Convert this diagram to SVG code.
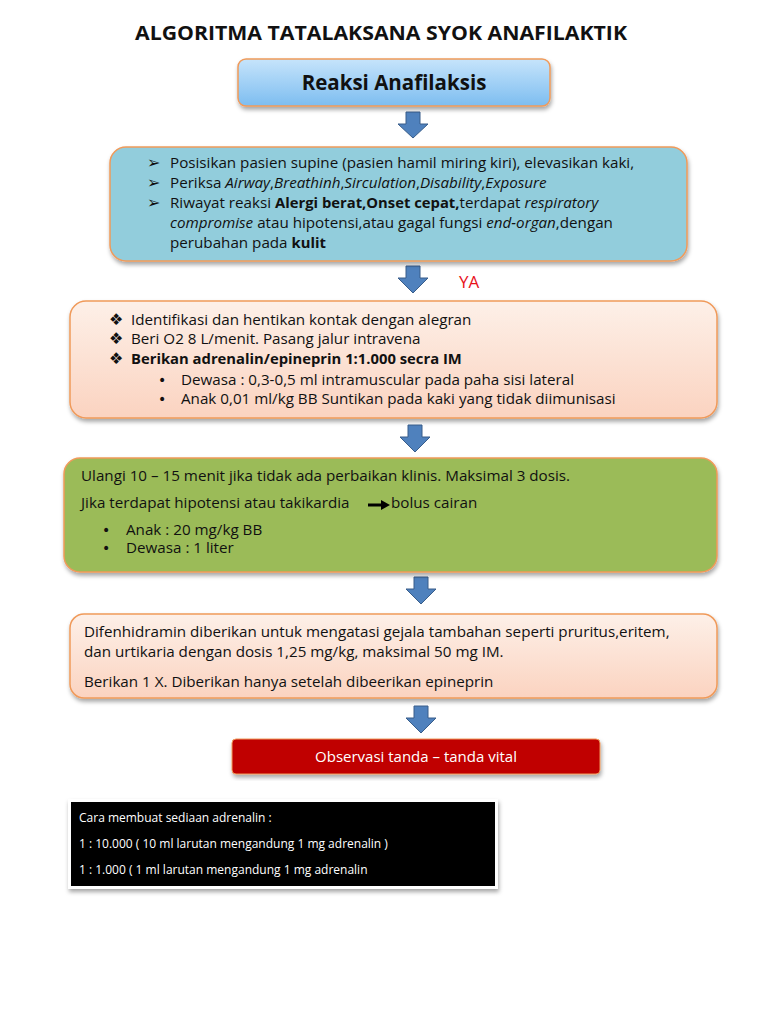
<svg xmlns="http://www.w3.org/2000/svg" width="768" height="1024" viewBox="0 0 768 1024">
<defs>
<linearGradient id="gBlue" x1="0" y1="0" x2="0" y2="1"><stop offset="0" stop-color="#c6e4fb"/><stop offset="1" stop-color="#7dbdf0"/></linearGradient>
<linearGradient id="gPeach" x1="0" y1="0" x2="0" y2="1"><stop offset="0" stop-color="#fdf0e8"/><stop offset="1" stop-color="#fbd3c0"/></linearGradient>
<filter id="sh" x="-5%" y="-10%" width="110%" height="130%"><feDropShadow dx="1" dy="3" stdDeviation="2" flood-color="#000" flood-opacity="0.35"/></filter>
<style>
.t{font-family:"Open Sans","Liberation Sans",sans-serif;fill:#111}
.b{font-size:15.2px}
.bd{font-weight:bold;font-size:14.8px}
.m{font-family:"DejaVu Sans",sans-serif;font-size:16px}
.d{font-family:"DejaVu Sans",sans-serif;font-size:14px}
.box{stroke:#f09a5a;stroke-width:1.5}
.arr{fill:#4f81bd;stroke:#385d8a;stroke-width:1}
</style>
</defs>
<rect width="768" height="1024" fill="#fff"/>
<text class="t" x="135" y="40" font-size="19" font-weight="bold" textLength="492" lengthAdjust="spacingAndGlyphs">ALGORITMA TATALAKSANA SYOK ANAFILAKTIK</text>

<g id="connectors">
<path class="arr" d="M406,112 H420 V124 H428 L413,138 L398,124 H406 Z"/>
<path class="arr" d="M406,266 H420 V278 H428 L413,293 L398,278 H406 Z"/>
<path class="arr" d="M408,425 H422 V437 H430 L415,452 L400,437 H408 Z"/>
<path class="arr" d="M414,577 H428 V589 H436 L421,604 L406,589 H414 Z"/>
<path class="arr" d="M414,706 H428 V718 H436 L421,733 L406,718 H414 Z"/>
<text x="459" y="288" font-family="'Open Sans',sans-serif" font-size="17" fill="#e8101a">YA</text>
</g>

<g id="n1">
<rect class="box" x="238" y="59" width="312" height="47" rx="8" fill="url(#gBlue)" filter="url(#sh)"/>
<text class="t" x="394" y="90" font-size="20.5" font-weight="bold" text-anchor="middle">Reaksi Anafilaksis</text>
</g>

<g id="n2">
<rect class="box" x="110" y="147" width="577" height="114" rx="16" fill="#92cddc" filter="url(#sh)"/>
<g class="t b">
<text class="m" x="147" y="168">➢</text>
<text class="m" x="147" y="188">➢</text>
<text class="m" x="147" y="208">➢</text>
<text x="170" y="168">Posisikan pasien supine (pasien hamil miring kiri), elevasikan kaki,</text>
<text x="170" y="188">Periksa <tspan font-style="italic">Airway</tspan>,<tspan font-style="italic">Breathinh</tspan>,<tspan font-style="italic">Sirculation</tspan>,<tspan font-style="italic">Disability</tspan>,<tspan font-style="italic">Exposure</tspan></text>
<text x="170" y="208">Riwayat reaksi <tspan class="bd">Alergi berat,Onset cepat,</tspan>terdapat <tspan font-style="italic">respiratory</tspan></text>
<text x="170" y="228"><tspan font-style="italic">compromise</tspan> atau hipotensi,atau gagal fungsi <tspan font-style="italic">end-organ</tspan>,dengan</text>
<text x="170" y="248">perubahan pada <tspan class="bd">kulit</tspan></text>
</g>
</g>

<g id="n3">
<rect class="box" x="70" y="301" width="647" height="117" rx="16" fill="url(#gPeach)" filter="url(#sh)"/>
<g class="t b">
<text class="m" x="109" y="325" font-size="14">❖</text>
<text class="m" x="109" y="344" font-size="14">❖</text>
<text class="m" x="109" y="364" font-size="14">❖</text>
<text x="131" y="325">Identifikasi dan hentikan kontak dengan alegran</text>
<text x="131" y="344">Beri O2 8 L/menit. Pasang jalur intravena</text>
<text class="bd" x="131" y="364">Berikan adrenalin/epineprin 1:1.000 secra IM</text>
<text class="d" x="158" y="385">•</text>
<text class="d" x="158" y="404">•</text>
<text x="181" y="385">Dewasa : 0,3-0,5 ml intramuscular pada paha sisi lateral</text>
<text x="181" y="404">Anak 0,01 ml/kg BB Suntikan pada kaki yang tidak diimunisasi</text>
</g>
</g>

<g id="n4">
<rect class="box" x="64" y="458" width="653" height="114" rx="16" fill="#9bbb59" filter="url(#sh)"/>
<g class="t b">
<text x="81" y="481">Ulangi 10 – 15 menit jika tidak ada perbaikan klinis. Maksimal 3 dosis.</text>
<text x="81" y="508">Jika terdapat hipotensi atau takikardia</text>
<path d="M368,505 H382" stroke="#000" stroke-width="3"/>
<path d="M381,500 L390,505 L381,510 Z" fill="#000"/>
<text x="391" y="508">bolus cairan</text>
<text class="d" x="102" y="535">•</text>
<text class="d" x="102" y="553">•</text>
<text x="126" y="535">Anak : 20 mg/kg BB</text>
<text x="126" y="553">Dewasa : 1 liter</text>
</g>
</g>

<g id="n5">
<rect class="box" x="70" y="614" width="647" height="84" rx="14" fill="url(#gPeach)" filter="url(#sh)"/>
<g class="t b">
<text x="84" y="637">Difenhidramin diberikan untuk mengatasi gejala tambahan seperti pruritus,eritem,</text>
<text x="84" y="657">dan urtikaria dengan dosis 1,25 mg/kg, maksimal 50 mg IM.</text>
<text x="84" y="687">Berikan 1 X. Diberikan hanya setelah dibeerikan epineprin</text>
</g>
</g>

<g id="n6">
<rect x="232" y="739" width="368" height="35" rx="4" fill="#c00000" stroke="#f09a5a" stroke-width="1" filter="url(#sh)"/>
<text x="416" y="762" font-family="'Open Sans',sans-serif" font-size="15" fill="#fff" text-anchor="middle">Observasi tanda – tanda vital</text>
</g>

<g id="n7">
<rect x="68" y="799" width="430" height="90" fill="#fff" filter="url(#sh)"/>
<rect x="71" y="802" width="424" height="84" fill="#000"/>
<g font-family="'Open Sans',sans-serif" font-size="12" fill="#fff">
<text x="79" y="822">Cara membuat sediaan adrenalin :</text>
<text x="79" y="848">1 : 10.000 ( 10 ml larutan mengandung 1 mg adrenalin )</text>
<text x="79" y="874">1 : 1.000 ( 1 ml larutan mengandung 1 mg adrenalin</text>
</g>
</g>
</svg>
